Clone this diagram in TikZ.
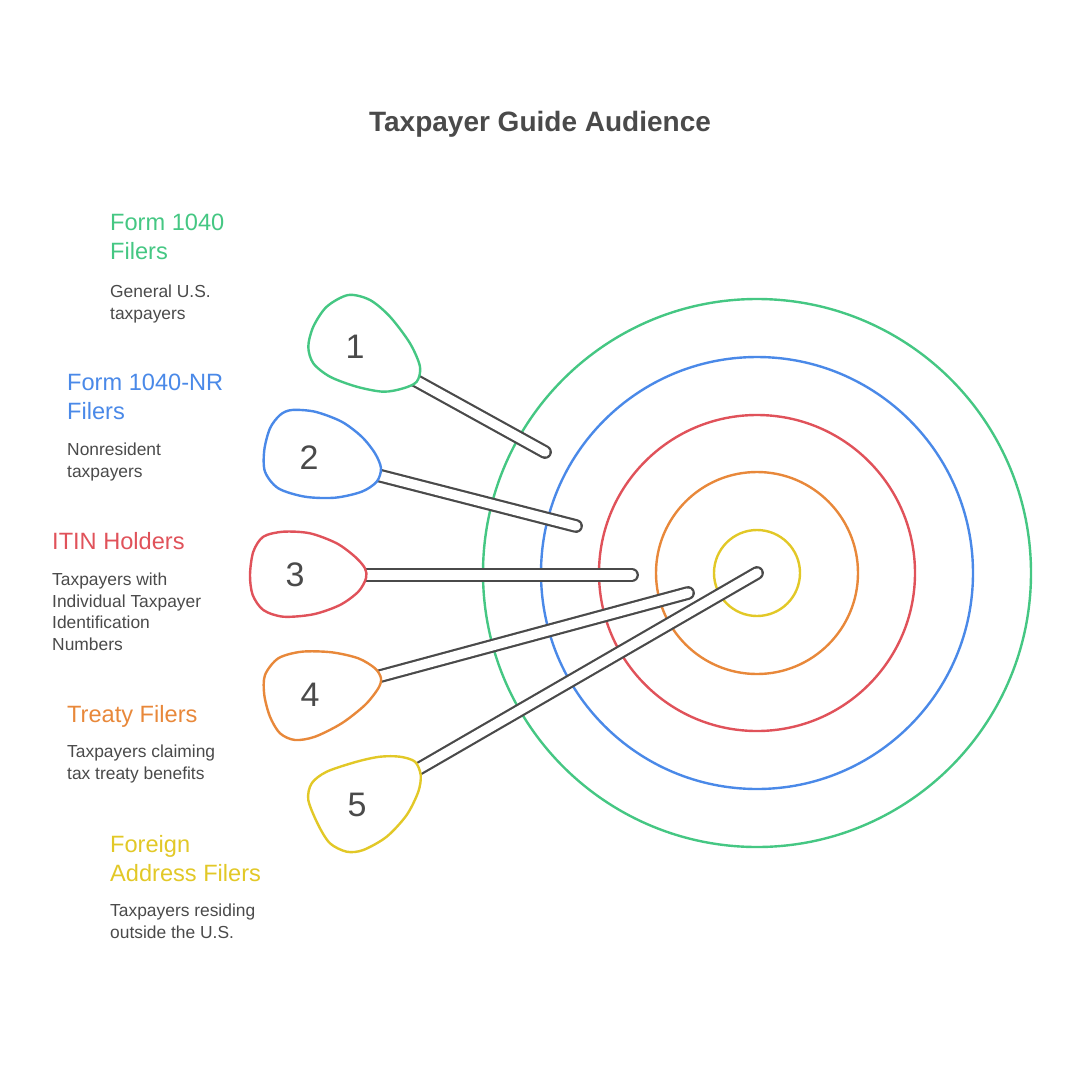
\documentclass[tikz,border=0pt]{standalone}
\usepackage{fontspec}
\setmainfont{Liberation Sans}

\definecolor{ringgreen}{HTML}{45C783}
\definecolor{ringblue}{HTML}{4A89E8}
\definecolor{ringred}{HTML}{E0525A}
\definecolor{ringorange}{HTML}{E8883A}
\definecolor{ringyellow}{HTML}{E2C827}
\definecolor{txtgray}{HTML}{4A4A4A}
\definecolor{stickgray}{HTML}{4A4A4A}

\tikzset{
	ring/.style={line width=2.4pt},
	stick/.style={draw=stickgray, line width=2.2pt, double=white, double distance=9.4pt, line cap=round},
	pin/.style={line width=2.4pt, fill=white},
	pinnum/.style={text=txtgray, font=\fontsize{34}{40}\selectfont, inner sep=0pt},
	title/.style={text=txtgray, font=\bfseries\fontsize{28}{33}\selectfont, anchor=base, inner sep=0pt},
	head/.style={font=\fontsize{23.6}{29}\selectfont, align=left, anchor=north west, inner sep=0pt},
	desc/.style={text=txtgray, font=\fontsize{17.4}{21.5}\selectfont, align=left, anchor=north west, inner sep=0pt}
}

\begin{document}
\begin{tikzpicture}[x=1pt, y=-1pt]
			%%%%% START %%%%%
			\useasboundingbox (0,0) rectangle (1080,1080);
			
			\node[title] (title) at (540,131.5) {Taxpayer Guide Audience};
			
			\coordinate (bull) at (757,573);
			\draw[ring, ringgreen] (bull) circle[radius=274pt];
			\draw[ring, ringblue] (bull) circle[radius=216pt];
			\draw[ring, ringred] (bull) circle[radius=158pt];
			\draw[ring, ringorange] (bull) circle[radius=101pt];
			\draw[ring, ringyellow] (bull) circle[radius=43pt];
			
			\coordinate (c1) at (355,347);
			\coordinate (c2) at (309,457.5);
			\coordinate (c3) at (295,575);
			\coordinate (c4) at (310,695);
			\coordinate (c5) at (357,804.5);
			
			\coordinate (e1) at (545,452);
			\coordinate (e2) at (576,526);
			\coordinate (e3) at (632,575);
			\coordinate (e4) at (688,593);
			
			\draw[stick] (c1) -- (e1);
			\draw[stick] (c2) -- (e2);
			\draw[stick] (c3) -- (e3);
			\draw[stick] (c4) -- (e4);
			\draw[stick] (c5) -- (bull);
			
			\draw[pin, draw=ringgreen] plot[smooth cycle, tension=0.5] coordinates {(348.3,295) (370,300) (390,316.7) (410,343.3) (420,366.7) (416.7,381.7) (403.3,388.3) (383.3,391.7) (356.7,386.7) (330,376.7) (313.3,363.3) (308.3,346.7) (313.3,326.7) (326.7,306.7)};
			\draw[pin, draw=ringblue] plot[smooth cycle, tension=0.5] coordinates {(291.7,410) (315,411.7) (341.7,421.7) (361.7,436.7) (375,453.3) (381,468.3) (376.7,481.7) (361.7,491.7) (335,497.7) (305,496.7) (278.3,488.3) (265,471.7) (264.3,450) (270,428.3) (280,415)};
			\draw[pin, draw=ringred] plot[smooth cycle, tension=0.5] coordinates {(283.3,531.7) (310,533.3) (336.7,543.3) (355,556.7) (365,568.3) (366,578.3) (358.3,591.7) (340,605) (313.3,614.3) (283.3,616.7) (263.3,610) (252.7,595) (250,575) (253.3,551.7) (263.3,536.7)};
			\draw[pin, draw=ringorange] plot[smooth cycle, tension=0.5] coordinates {(301.7,651.7) (331.7,652.3) (358.3,658.3) (375,668.3) (381,678.3) (378.3,688.3) (365,705) (341.7,723.3) (315,736.7) (295,740) (280,733.3) (270,716.7) (264.3,695) (265,675) (278.3,658.3)};
			\draw[pin, draw=ringyellow] plot[smooth cycle, tension=0.5] coordinates {(400,756.7) (415,761.7) (420.7,775) (418.3,791.7) (406.7,815) (386.7,836.7) (363.3,850) (346.7,851.7) (330,843.3) (318.3,825) (308.3,800) (311.7,783.3) (326.7,771.7) (356.7,761.7) (380,756.7)};
			
			\node[pinnum] (n1) at (c1) {1};
			\node[pinnum] (n2) at (c2) {2};
			\node[pinnum] (n3) at (c3) {3};
			\node[pinnum] (n4) at (c4) {4};
			\node[pinnum] (n5) at (c5) {5};
			
			\node[head, text=ringgreen] (h1) at (110,214) {Form 1040\\Filers};
			\node[desc] (d1) at (110,285) {General U.S.\\taxpayers};
			
			\node[head, text=ringblue] (h2) at (67,374) {Form 1040-NR\\Filers};
			\node[desc] (d2) at (67,443) {Nonresident\\taxpayers};
			
			\node[head, text=ringred] (h3) at (52,532) {ITIN Holders};
			\node[desc] (d3) at (52,573) {Taxpayers with\\Individual Taxpayer\\Identification\\Numbers};
			
			\node[head, text=ringorange] (h4) at (67,705) {Treaty Filers};
			\node[desc] (d4) at (67,745) {Taxpayers claiming\\tax treaty benefits};
			
			\node[head, text=ringyellow] (h5) at (110,835) {Foreign\\Address Filers};
			\node[desc] (d5) at (110,904) {Taxpayers residing\\outside the U.S.};
			
			%%%%% END %%%%%
\end{tikzpicture}
\end{document}
